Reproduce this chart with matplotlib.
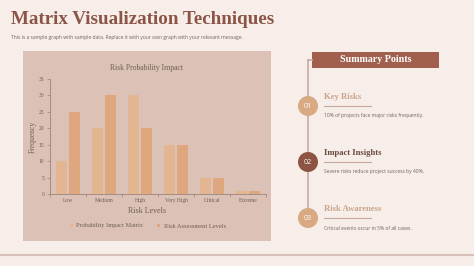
import numpy as np
import matplotlib.pyplot as plt
from matplotlib.patches import Rectangle, Ellipse
from matplotlib.lines import Line2D

# ----------------------------
# Data
# ----------------------------
categories = ["Low", "Medium", "High", "Very High", "Critical", "Extreme"]
prob_impact = [10, 20, 30, 15, 5, 1]
risk_assess = [25, 30, 20, 15, 5, 1]
series_names = ["Probability Impact Matrix", "Risk Assessment Levels"]

points = [
    ("01", "Key Risks", "10% of projects face major risks frequently."),
    ("02", "Impact Insights", "Severe risks reduce project success by 40%."),
    ("03", "Risk Awareness", "Critical events occur in 5% of all cases."),
]

# ----------------------------
# Style
# ----------------------------
W, H = 474, 266
bg = "#F7EEE9"
panel = "#DCC2B6"
c1 = "#E3B590"
c2 = "#DEA77E"
brown = "#8E5443"
serif = ["Liberation Serif", "DejaVu Serif"]
sans = ["Open Sans", "DejaVu Sans"]


def fx(px):
    return px / W


def fy(py):
    return 1 - py / H


fig = plt.figure(figsize=(W / 100, H / 100), dpi=100)
fig.patch.set_facecolor(bg)

# header
fig.text(fx(11), fy(19), "Matrix Visualization Techniques", family=serif,
         weight="bold", fontsize=13.7, color="#8B5446", va="center")
fig.text(fx(11), fy(37), "This is a sample graph with sample data. Replace it with your own graph with your relevant message.",
         family=sans, fontsize=3.6, color="#6E6560", va="center")

# chart panel
fig.patches.append(Rectangle((fx(23), fy(241)), 248 / W, 190 / H, transform=fig.transFigure,
                             facecolor=panel, edgecolor="none", zorder=-1))

ax = fig.add_axes([fx(50), fy(194), 216 / W, 115 / H])
ax.set_zorder(2)
ax.set_facecolor("none")
x = np.arange(len(categories))
ax.bar(x - 0.18, prob_impact, width=0.28, color=c1, label=series_names[0])
ax.bar(x + 0.18, risk_assess, width=0.28, color=c2, label=series_names[1])
ax.set_xlim(-0.5, len(categories) - 0.5)
ax.set_ylim(0, 35)
ax.set_yticks(range(0, 36, 5))
ax.set_xticks(x)
ax.set_xticklabels(categories)
ax.set_xticks(np.arange(-0.5, len(categories), 1), minor=True)
for s in ["top", "right"]:
    ax.spines[s].set_visible(False)
for s in ["left", "bottom"]:
    ax.spines[s].set_color("#9C857B")
    ax.spines[s].set_linewidth(0.6)
ax.tick_params(axis="x", which="major", length=0, pad=3, labelsize=4.0, labelcolor="#6E5E57")
ax.tick_params(axis="x", which="minor", length=2, width=0.5, color="#9C857B")
ax.tick_params(axis="y", length=2, width=0.5, color="#9C857B", pad=2, labelsize=4.0, labelcolor="#6E5E57")
for lab in ax.get_xticklabels() + ax.get_yticklabels():
    lab.set_family(serif)

fig.text(fx(147), fy(68), "Risk Probability Impact", family=serif, fontsize=5.5,
         color="#6E5E57", ha="center", va="center")
fig.text(fx(147), fy(211), "Risk Levels", family=serif, fontsize=5.8,
         color="#6E5E57", ha="center", va="center")
fig.text(fx(33), fy(137), "Frequency", family=serif, fontsize=5.5, rotation=90,
         color="#6E5E57", ha="center", va="center")
ax.legend(loc="center", bbox_to_anchor=(fx(148), fy(226)), bbox_transform=fig.transFigure,
          ncol=2, frameon=False, prop={"family": serif, "size": 4.6}, labelcolor="#6E5E57",
          handlelength=0.45, handleheight=0.45, handletextpad=0.5, columnspacing=2.2)

# right summary column
fig.lines.append(Line2D([fx(308), fx(308)], [fy(60), fy(212)], transform=fig.transFigure,
                        color="#C9ADA2", lw=1.2))
fig.lines.append(Line2D([fx(308), fx(312)], [fy(60), fy(60)], transform=fig.transFigure,
                        color="#C9ADA2", lw=1.2))
fig.patches.append(Rectangle((fx(312), fy(68)), 127 / W, 16 / H, transform=fig.transFigure,
                             facecolor="#A0604D", edgecolor="none"))
fig.text(fx(376), fy(60), "Summary Points", family=serif, weight="bold", fontsize=7.2,
         color="white", ha="center", va="center")

circ_colors = ["#D8A983", brown, "#D8A983"]
head_colors = ["#C9A48A", "#6B4A40", "#C9A48A"]
for i, (num, head, body) in enumerate(points):
    cy = 106 + 56 * i
    fig.patches.append(Ellipse((fx(308), fy(cy)), 20 / W, 20 / H, transform=fig.transFigure,
                               facecolor=circ_colors[i], edgecolor="none", zorder=3))
    fig.text(fx(308), fy(cy), num, family=sans, fontsize=5,
             color="white", ha="center", va="center", zorder=4)
    fig.text(fx(324), fy(cy - 9), head, family=serif, weight="bold", fontsize=6.2,
             color=head_colors[i], va="center")
    fig.lines.append(Line2D([fx(324), fx(371)], [fy(cy), fy(cy)], transform=fig.transFigure,
                            color="#C8A89C", lw=0.8))
    fig.text(fx(324), fy(cy + 10), body, family=sans, fontsize=3.6,
             color="#6E6560", va="center")

# bottom rule
fig.lines.append(Line2D([0, 1], [fy(255), fy(255)], transform=fig.transFigure,
                        color="#D9BFB8", lw=1.5))

fig.savefig("out.png", dpi=100, facecolor=bg)
